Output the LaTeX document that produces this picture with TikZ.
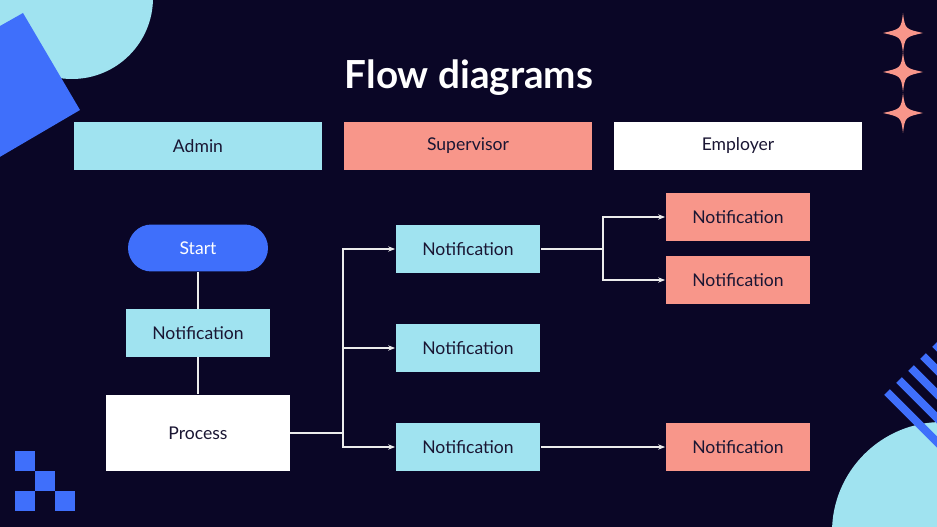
\documentclass[tikz,border=0pt]{standalone}
\usepackage{fontspec}
\setmainfont{Lato}
\usetikzlibrary{arrows.meta}
\definecolor{bgnavy}{HTML}{0A0626}
\definecolor{lcyan}{HTML}{A0E3F0}
\definecolor{salmon}{HTML}{F8968A}
\definecolor{royal}{HTML}{3F6FFB}
\definecolor{ink}{HTML}{1A1633}
\tikzset{
  box/.style={rectangle, minimum width=2.9cm, minimum height=0.96cm, inner sep=0pt, text=ink, font=\fontsize{10}{12}\selectfont},
  lane/.style={box, minimum width=4.96cm},
  link/.style={draw=white!85!gray, line width=0.6pt},
  flow/.style={link, -{Stealth[length=4pt,width=3pt]}}
}
\begin{document}
\begin{tikzpicture}[x=0.02cm,y=-0.02cm]
\useasboundingbox (0,0) rectangle (937,527);
\fill[bgnavy] (0,0) rectangle (937,527);
\begin{scope}
  \clip (0,0) rectangle (937,527);
  % corner shapes
  \fill[lcyan] (72,-2) circle (81);
  \fill[royal] (23,13) -- (80,110) -- (-2,158) -- (-60,60) -- cycle;
  \fill[lcyan] (942,532) circle (110);
  \foreach \d in {0,12,24,36,48}
    \draw[royal, line width=0.16cm] (887+\d,392-\d) -- ++(80,80);
  \foreach \cy in {33,72,113}
    \fill[salmon] (903,\cy-20) .. controls (905,\cy-4) .. (923,\cy)
      .. controls (905,\cy+4) .. (903,\cy+20)
      .. controls (901,\cy+4) .. (883,\cy)
      .. controls (901,\cy-4) .. cycle;
  \foreach \x/\y in {15/451,35/471,15/491,55/491}
    \fill[royal] (\x,\y) rectangle ++(20,20);
\end{scope}

\node[text=white, font=\fontsize{22}{26}\selectfont\bfseries] (title) at (469,78) {Flow diagrams};

\node[lane, fill=lcyan] (admin) at (198,146) {Admin};
\node[lane, fill=salmon] (super) at (468,146) {Supervisor};
\node[lane, fill=white] (employer) at (738,146) {Employer};

\node[box, fill=royal, text=white, rounded corners=0.47cm, minimum width=2.8cm, minimum height=0.94cm] (start) at (198,248) {Start};
\node[box, fill=lcyan] (note1) at (198,333) {Notification};
\node[box, fill=white, minimum width=3.68cm, minimum height=1.54cm] (process) at (198,433) {Process};
\node[box, fill=lcyan] (note2) at (468,249) {Notification};
\node[box, fill=lcyan] (note3) at (468,348) {Notification};
\node[box, fill=lcyan] (note4) at (468,447) {Notification};
\node[box, fill=salmon] (note5) at (738,217) {Notification};
\node[box, fill=salmon] (note6) at (738,280) {Notification};
\node[box, fill=salmon] (note7) at (738,447) {Notification};

\coordinate (fork1) at (343,433);
\coordinate (fork2) at (603,249);

\draw[link] (start) -- (note1);
\draw[link] (note1) -- (process);
\draw[link] (process.east) -- (fork1);
\draw[flow] (fork1) |- (note2);
\draw[flow] (fork1) |- (note3);
\draw[flow] (fork1) |- (note4);
\draw[link] (note2) -- (fork2);
\draw[flow] (fork2) |- (note5);
\draw[flow] (fork2) |- (note6);
\draw[flow] (note4) -- (note7);
\end{tikzpicture}
\end{document}
